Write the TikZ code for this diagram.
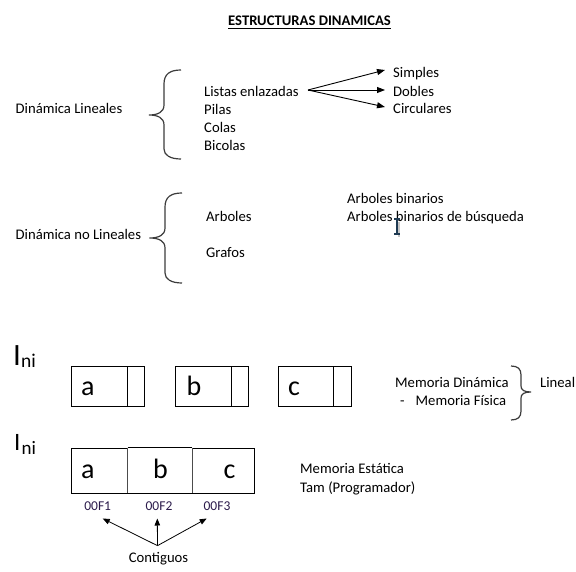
\documentclass[tikz,border=0pt]{standalone}
\usepackage{fontspec}
\setmainfont{Carlito}
\usetikzlibrary{arrows.meta}
\definecolor{bracecol}{HTML}{3C3C3C}
\definecolor{addrcol}{HTML}{2B1B4B}
\definecolor{cursorcol}{HTML}{1F3A52}
\tikzset{
  txt/.style={font=\fontsize{14.67}{17.6}\selectfont, inner sep=0pt, anchor=base west},
  addr/.style={font=\fontsize{13.5}{16}\selectfont, inner sep=0pt, anchor=base, text=addrcol},
  letter/.style={font=\fontsize{28}{30}\selectfont, inner sep=0pt, anchor=base west},
  cell/.style={draw, line width=0.9pt, inner sep=0pt, minimum height=40pt},
  scell/.style={draw, line width=0.9pt, inner sep=0pt, minimum height=45pt},
  bracel/.style={draw=bracecol, line width=1.2pt},
  arr/.style={line width=0.9pt, -{Triangle[length=8pt,width=6pt]}},
  sarr/.style={line width=0.8pt, -{Triangle[length=7pt,width=5.5pt]}}
}
\begin{document}
\begin{tikzpicture}[x=1pt,y=-1pt]
\useasboundingbox (0,0) rectangle (576,572);
\fill[white] (0,0) rectangle (576,572);

% title
\node[txt, font=\fontsize{14.67}{17.6}\selectfont\bfseries] (title) at (228,26) {ESTRUCTURAS DINAMICAS};
\draw[line width=0.9pt] ([yshift=-2pt]title.base west) -- ([yshift=-2pt]title.base east);

% Dinamica Lineales
\node[txt] (dl) at (15.5,114) {Dinámica Lineales};
\draw[bracel] (181,70) .. controls (170,70) and (164,74) .. (164,84) -- (164,105)
  .. controls (164,112) and (158,115) .. (149,115)
  .. controls (158,115) and (164,118) .. (164,125) -- (164,149)
  .. controls (164,155) and (170,159) .. (181,159);
\node[txt] (listas) at (204,97) {Listas enlazadas};
\node[txt] (pilas) at (204,115) {Pilas};
\node[txt] (colas) at (204,133) {Colas};
\node[txt] (bicolas) at (204,151) {Bicolas};
\node[txt] (simples) at (393,78) {Simples};
\node[txt] (dobles) at (393,97) {Dobles};
\node[txt] (circ) at (393,114) {Circulares};
\coordinate (fork) at (308,90);
\draw[arr] (fork) -- ([xshift=-8pt,yshift=8pt]simples.base west);
\draw[arr] (fork) -- ([xshift=-8pt,yshift=7pt]dobles.base west);
\draw[arr] (fork) -- ([xshift=-8pt,yshift=7pt]circ.base west);

% Dinamica no Lineales
\node[txt] (dnl) at (15.5,240) {Dinámica no Lineales};
\draw[bracel] (182,193) .. controls (171,193) and (165,197) .. (165,207) -- (165,228)
  .. controls (165,235) and (159,238) .. (149.5,238)
  .. controls (159,238) and (165,241) .. (165,248) -- (165,273)
  .. controls (165,279) and (171,283) .. (182,283);
\node[txt] (arboles) at (206,222) {Arboles};
\node[txt] (grafos) at (206,258) {Grafos};
\node[txt] (ab1) at (347,204) {Arboles binarios};
\node[txt] (ab2) at (347,222) {Arboles binarios de búsqueda};

% cursor (I-beam)
\draw[gray!45, line width=2pt] (399,222) -- (399,237);
\draw[cursorcol, line width=1.4pt] (397,219) -- (397,234);
\draw[cursorcol, line width=1.2pt] (394,219) -- (400,219);
\draw[cursorcol, line width=1.2pt] (394,234) -- (400,234);

% I_ni (1)
\node[inner sep=0pt, anchor=base west, font=\fontsize{31}{33}\selectfont] (i1) at (13,365) {I};
\node[inner sep=0pt, anchor=base west, font=\fontsize{19.5}{21}\selectfont] (ni1) at (21,367) {ni};

% dynamic nodes
\node[cell, minimum width=56.4pt] (a1) at (99.2,386) {};
\node[cell, minimum width=16.6pt] (a1p) at (135.7,386) {};
\node[cell, minimum width=56pt] (b1) at (203,386) {};
\node[cell, minimum width=17.5pt] (b1p) at (239.75,386) {};
\node[cell, minimum width=55.5pt] (c1) at (305.75,386) {};
\node[cell, minimum width=18pt] (c1p) at (342.5,386) {};
\node[letter] (la1) at (81,395) {a};
\node[letter] (lb1) at (186.5,395) {b};
\node[letter] (lc1) at (288,395) {c};

\node[txt] (md) at (395,387) {Memoria Dinámica};
\node[txt] (dash) at (400,405) {-};
\node[txt] (mf) at (415.5,405) {Memoria Física};
\draw[bracel] (511,366) .. controls (518,366) and (521,369) .. (521,375) -- (521,386)
  .. controls (521,390) and (524,392) .. (531,392)
  .. controls (524,392) and (521,394) .. (521,398) -- (521,411)
  .. controls (521,417) and (518,420) .. (511,420);
\node[txt] (lineal) at (540,387) {Lineal};

% I_ni (2)
\node[inner sep=0pt, anchor=base west, font=\fontsize{25}{27}\selectfont] (i2) at (14,450.7) {I};
\node[inner sep=0pt, anchor=base west, font=\fontsize{19}{21}\selectfont] (ni2) at (21.5,454) {ni};

% static array
\node[scell, minimum width=56.4pt] (sa) at (99.2,470.5) {};
\node[scell, minimum width=65.4pt, draw=none] (sb) at (160.1,470.5) {};
\node[scell, minimum width=61.2pt] (sc) at (223.4,470.5) {};
\draw[line width=0.9pt] (sa.north east) -- (sc.north west);
\draw[line width=0.9pt] (sa.south east) -- (sc.south west);
\draw[gray!60!black, line width=0.8pt] (sa.north east) -- (sa.south east);
\draw[gray!60!black, line width=0.8pt] (sc.north west) -- (sc.south west);
\node[letter] (la2) at (81,478) {a};
\node[letter] (lb2) at (153,478) {b};
\node[letter] (lc2) at (223.4,478) {c};

\node[addr] (f1) at (97.7,510.5) {00F1};
\node[addr] (f2) at (159,510.5) {00F2};
\node[addr] (f3) at (217,510.5) {00F3};
\node[txt, anchor=base] (cont) at (158.5,562) {Contiguos};
\draw[sarr] ([xshift=-1pt,yshift=6pt]cont.north) -- ([xshift=5pt,yshift=-8pt]f1.base);
\draw[sarr] ([xshift=-1pt,yshift=6pt]cont.north) -- ([xshift=-1.7pt,yshift=-8pt]f2.base);
\draw[sarr] ([xshift=-1pt,yshift=6pt]cont.north) -- ([xshift=-10.3pt,yshift=-8pt]f3.base);

\node[txt] (me) at (300,473) {Memoria Estática};
\node[txt] (tam) at (300,492) {Tam (Programador)};
\end{tikzpicture}
\end{document}
